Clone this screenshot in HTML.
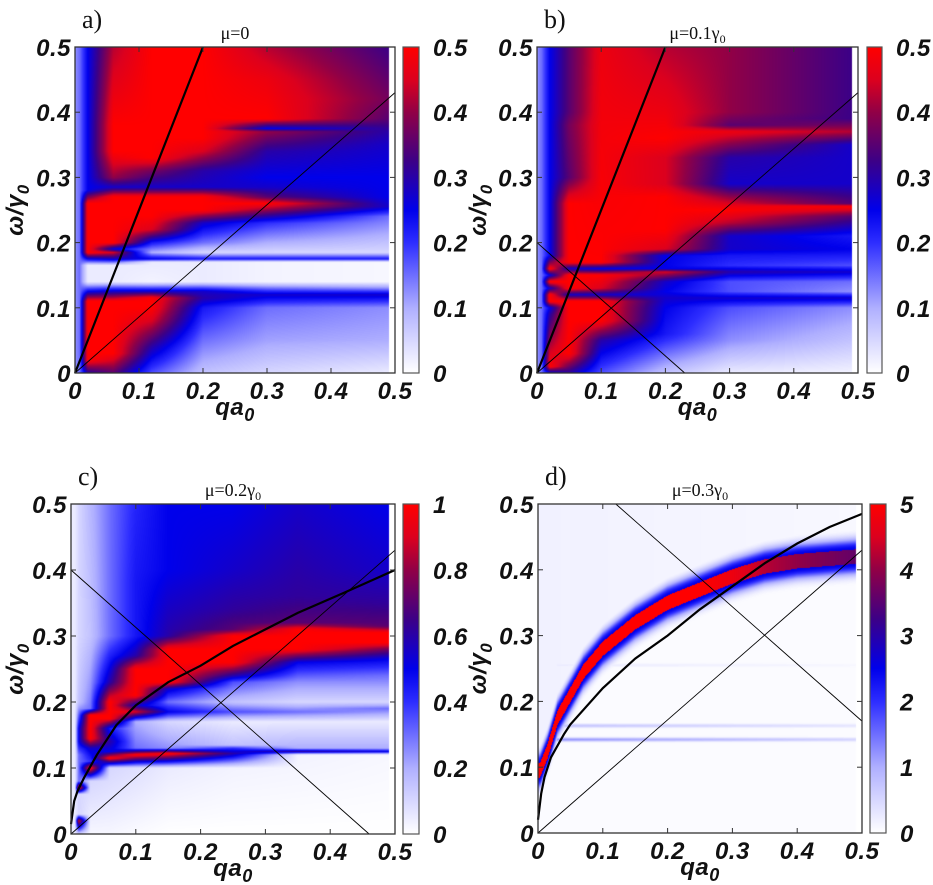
<!DOCTYPE html>
<html><head><meta charset="utf-8">
<style>
body{margin:0;background:#fff;width:933px;height:885px;overflow:hidden;position:relative;font-family:"Liberation Sans",sans-serif}
canvas{position:absolute}
svg{position:absolute;left:0;top:0}
.tk{font-family:"Liberation Sans",sans-serif;font-weight:bold;font-style:italic;font-size:24px;fill:#111;letter-spacing:0.5px}
.ttl{font-family:"Liberation Serif",serif;font-size:18px;fill:#111}
.pl{font-family:"Liberation Serif",serif;font-size:26px;fill:#111}
</style></head>
<body>
<canvas id="ca"></canvas>
<canvas id="cb"></canvas>
<canvas id="cc"></canvas>
<canvas id="cd"></canvas>
<svg id="ov" width="933" height="885"></svg>
<script>
// ---- data ----
const xTicks=["0","0.1","0.2","0.3","0.4","0.5"];
const yTicks=["0","0.1","0.2","0.3","0.4","0.5"];
const cbTicksA=["0","0.1","0.2","0.3","0.4","0.5"];
const cbTicksB=["0","0.1","0.2","0.3","0.4","0.5"];
const cbTicksC=["0","0.2","0.4","0.6","0.8","1"];
const cbTicksD=["0","1","2","3","4","5"];
const titles=["μ=0","μ=0.1γ","μ=0.2γ","μ=0.3γ"];
const panelLetters=["a)","b)","c)","d)"];

const aColQ=[0.0,0.007,0.02,0.06,0.12,0.2,0.3,0.49];
const aProfiles=[
[[0,0.25],[0.5,0.25]],
[[0,0.3],[0.5,0.3]],
[[0,0.6],[0.02,1],[0.11,1],[0.125,0.5],[0.14,0.05],[0.165,0.05],[0.175,0.5],[0.185,1],[0.26,1],[0.28,0.5],[0.3,0.5],[0.37,0.5],[0.5,0.5]],
[[0,0.7],[0.03,1],[0.11,1],[0.125,0.55],[0.14,0.05],[0.165,0.05],[0.175,0.55],[0.185,0.9],[0.19,0.5],[0.2,1],[0.27,1],[0.285,0.55],[0.3,0.8],[0.34,1],[0.38,1],[0.5,0.85]],
[[0,0.35],[0.04,0.6],[0.08,0.9],[0.1,1],[0.115,1],[0.125,0.55],[0.14,0.03],[0.17,0.05],[0.175,0.5],[0.185,0.2],[0.2,0.45],[0.22,0.9],[0.24,1],[0.27,1],[0.285,0.55],[0.31,0.75],[0.33,1],[0.5,1]],
[[0,0.15],[0.05,0.3],[0.1,0.45],[0.115,0.6],[0.125,0.55],[0.14,0.05],[0.17,0.05],[0.175,0.45],[0.185,0.1],[0.2,0.3],[0.23,0.55],[0.25,1],[0.27,1],[0.285,0.55],[0.31,0.6],[0.34,0.9],[0.36,1],[0.5,1]],
[[0,0.1],[0.05,0.22],[0.1,0.3],[0.12,0.55],[0.13,0.3],[0.14,0.03],[0.17,0.03],[0.175,0.45],[0.185,0.1],[0.2,0.2],[0.23,0.4],[0.25,0.8],[0.26,1],[0.27,0.7],[0.285,0.55],[0.3,0.5],[0.34,0.6],[0.37,0.8],[0.375,0.5],[0.39,1],[0.45,0.95],[0.5,0.85]],
[[0,0.05],[0.05,0.2],[0.1,0.25],[0.12,0.55],[0.13,0.25],[0.14,0.02],[0.17,0.02],[0.175,0.45],[0.185,0.1],[0.2,0.15],[0.24,0.3],[0.255,0.55],[0.27,0.5],[0.3,0.5],[0.35,0.55],[0.37,0.6],[0.39,0.7],[0.42,0.75],[0.5,0.65]]
];
const bColQ=[0.0,0.007,0.02,0.05,0.1,0.2,0.3,0.49];
const bProfiles=[
[[0,0.25],[0.5,0.25]],
[[0,0.3],[0.5,0.3]],
[[0,0.5],[0.01,1],[0.09,0.6],[0.1,0.5],[0.11,1],[0.12,1],[0.13,0.55],[0.14,1],[0.15,0.5],[0.16,1],[0.18,0.5],[0.2,0.5],[0.5,0.5]],
[[0,0.6],[0.03,1],[0.11,1],[0.12,0.55],[0.13,1],[0.15,1],[0.16,0.55],[0.17,1],[0.26,1],[0.3,0.7],[0.38,0.75],[0.4,0.7],[0.5,0.7]],
[[0,0.35],[0.05,0.6],[0.08,1],[0.11,1],[0.12,0.55],[0.13,0.9],[0.15,1],[0.16,0.5],[0.17,1],[0.5,0.95]],
[[0,0.15],[0.06,0.45],[0.1,0.5],[0.115,0.55],[0.125,0.5],[0.14,0.55],[0.155,0.9],[0.16,0.5],[0.18,0.5],[0.19,0.9],[0.22,1],[0.27,1],[0.29,0.9],[0.33,0.9],[0.36,1],[0.4,0.95],[0.5,0.85]],
[[0,0.05],[0.05,0.25],[0.1,0.35],[0.115,0.55],[0.125,0.35],[0.14,0.35],[0.155,0.6],[0.165,0.4],[0.18,0.45],[0.19,0.55],[0.21,0.55],[0.23,0.85],[0.25,1],[0.27,0.8],[0.29,0.55],[0.33,0.6],[0.37,0.95],[0.38,0.7],[0.4,0.8],[0.5,0.8]],
[[0,0.03],[0.05,0.15],[0.1,0.25],[0.115,0.55],[0.125,0.25],[0.14,0.3],[0.155,0.55],[0.165,0.35],[0.19,0.5],[0.21,0.45],[0.24,0.7],[0.255,1],[0.26,0.7],[0.29,0.55],[0.35,0.55],[0.37,0.85],[0.39,0.65],[0.42,0.65],[0.5,0.65]]
];
const cColQ=[0.0,0.006,0.012,0.03,0.06,0.1,0.15,0.25,0.35,0.49];
const cProfiles=[
[[0,0.05],[0.5,0.05]],
[[0,0.05],[0.5,0.05]],
[[0,0.1],[0.02,0.9],[0.03,0.1],[0.06,0.1],[0.07,1],[0.08,0.3],[0.12,0.3],[0.14,0.5],[0.16,0.5],[0.2,0.15],[0.3,0.1],[0.5,0.1]],
[[0,0.02],[0.08,0.1],[0.1,1],[0.11,0.4],[0.13,0.55],[0.145,1],[0.18,1],[0.19,0.3],[0.22,0.25],[0.3,0.15],[0.5,0.18]],
[[0,0.02],[0.1,0.1],[0.115,1],[0.125,0.5],[0.14,0.6],[0.16,0.45],[0.175,1],[0.2,1],[0.23,0.6],[0.3,0.3],[0.4,0.3],[0.5,0.3]],
[[0,0.01],[0.1,0.08],[0.12,1],[0.13,0.3],[0.17,0.2],[0.185,0.9],[0.195,0.55],[0.21,1],[0.25,1],[0.27,0.6],[0.3,0.45],[0.38,0.45],[0.5,0.42]],
[[0,0],[0.1,0.05],[0.122,1],[0.13,0.25],[0.17,0.1],[0.185,0.5],[0.2,0.3],[0.22,0.55],[0.23,1],[0.28,1],[0.3,0.6],[0.35,0.55],[0.4,0.5],[0.5,0.5]],
[[0,0],[0.1,0.03],[0.122,0.6],[0.13,0.4],[0.135,0.15],[0.17,0.05],[0.185,0.35],[0.2,0.15],[0.23,0.35],[0.24,0.6],[0.26,1],[0.3,1],[0.31,0.7],[0.34,0.62],[0.4,0.55],[0.5,0.5]],
[[0,0],[0.12,0.03],[0.125,0.6],[0.13,0.2],[0.17,0.05],[0.185,0.3],[0.2,0.1],[0.23,0.25],[0.26,0.5],[0.28,1],[0.31,1],[0.32,0.7],[0.36,0.62],[0.4,0.6],[0.5,0.55]],
[[0,0],[0.12,0.02],[0.125,0.5],[0.13,0.2],[0.17,0.05],[0.19,0.3],[0.2,0.1],[0.24,0.3],[0.265,0.5],[0.28,0.75],[0.29,1],[0.305,1],[0.315,0.7],[0.35,0.62],[0.4,0.55],[0.5,0.5]]
];
const dRidgeQ=[0.003,0.015,0.03,0.05,0.07,0.1,0.15,0.2,0.25,0.3,0.35,0.4,0.49];
const dRidgeW=[0.095,0.125,0.175,0.21,0.245,0.28,0.32,0.35,0.37,0.39,0.405,0.413,0.42];
const dRidgePeak=[1,1,1,1,1,1,1,1,1,0.95,0.85,0.8,0.72];
const dBandW=[0.142,0.163,0.255];
const dBandT=[0.25,0.15,0.05];

const lineA=[{q:[0,0.2],w:[0,0.5],thick:true},{q:[0,0.5],w:[0,0.43],thick:false}];
const lineB=[{q:[0,0.2],w:[0,0.5],thick:true},{q:[0,0.5],w:[0,0.43],thick:false},{q:[0,0.23],w:[0.2,0],thick:false}];
const lineC=[{q:[0,0.5],w:[0,0.43],thick:false},{q:[0,0.46],w:[0.4,0],thick:false},
 {q:[0,0.005,0.01,0.02,0.04,0.07,0.1,0.15,0.2,0.25,0.3,0.35,0.42,0.5],w:[0.015,0.05,0.065,0.085,0.12,0.165,0.195,0.23,0.255,0.285,0.31,0.335,0.365,0.4],thick:true}];
const lineD=[{q:[0,0.5],w:[0,0.43],thick:false},{q:[0.12,0.5],w:[0.5,0.17],thick:false},
 {q:[0,0.005,0.01,0.02,0.04,0.05,0.1,0.15,0.2,0.25,0.3,0.35,0.4,0.45,0.5],w:[0.02,0.06,0.085,0.115,0.15,0.165,0.22,0.265,0.3,0.34,0.375,0.41,0.44,0.465,0.485],thick:true}];

// ---- layout ----
const P=[
 {id:'ca',x0:75,x1:395,y0:47,y1:373,cb0:403,cb1:419,cols:aColQ,prof:aProfiles,lines:lineA,cbt:cbTicksA,yl:71,yt:15},
 {id:'cb',x0:537,x1:858,y0:47,y1:373,cb0:867,cb1:882,cols:bColQ,prof:bProfiles,lines:lineB,cbt:cbTicksB,yl:533,yt:478},
 {id:'cc',x0:71,x1:395,y0:504,y1:834,cb0:403,cb1:419,cols:cColQ,prof:cProfiles,lines:lineC,cbt:cbTicksC,yl:67,yt:15},
 {id:'cd',x0:538,x1:862,y0:504,y1:833,cb0:870,cb1:886,cols:null,prof:null,lines:lineD,cbt:cbTicksD,yl:534,yt:478}
];
const cmap=[[0,255,255,255],[0.2,175,175,255],[0.4,45,45,255],[0.5,0,0,235],[0.65,60,0,135],[0.8,145,0,70],[0.9,220,0,30],[1,255,0,0]];
function col(t){t=Math.max(0,Math.min(1,t));for(let i=1;i<cmap.length;i++){if(t<=cmap[i][0]){const a=cmap[i-1],b=cmap[i],f=(t-a[0])/(b[0]-a[0]);return [a[1]+f*(b[1]-a[1]),a[2]+f*(b[2]-a[2]),a[3]+f*(b[3]-a[3])];}}return [255,0,0];}
function interp(xs,ys,x){if(x<=xs[0])return ys[0];for(let i=1;i<xs.length;i++){if(x<=xs[i]){const f=(x-xs[i-1])/(xs[i]-xs[i-1]);return ys[i-1]+f*(ys[i]-ys[i-1]);}}return ys[ys.length-1];}
function prof(st,w){return interp(st.map(s=>s[0]),st.map(s=>s[1]),w);}
function field(p,q,w){
 if(q>0.49)return 0;
 if(!p.cols){
  const wr=interp(dRidgeQ,dRidgeW,q),pk=interp(dRidgeQ,dRidgePeak,q);
  const d=Math.abs(w-wr);
  let t=d<0.011?pk:0.5*Math.exp(-Math.pow((d-0.011)/0.016,2));
  let bg=w>wr?0.035*(1-q):0.01;
  for(let i=0;i<dBandW.length;i++){if(q>0.03)bg=Math.max(bg,dBandT[i]*Math.exp(-Math.pow((w-dBandW[i])/0.003,2))*(1-q*1.2));}
  return Math.max(t,bg);
 }
 const c=p.cols;let i=1;while(i<c.length-1&&q>c[i])i++;
 const f=Math.max(0,Math.min(1,(q-c[i-1])/(c[i]-c[i-1])));
 return prof(p.prof[i-1],w)*(1-f)+prof(p.prof[i],w)*f;
}
const NS='http://www.w3.org/2000/svg';const ov=document.getElementById('ov');
function el(tag,attrs,txt){const e=document.createElementNS(NS,tag);for(const k in attrs)e.setAttribute(k,attrs[k]);if(txt!==undefined)e.textContent=txt;ov.appendChild(e);return e;}
P.forEach((p,pi)=>{
 const W=p.x1-p.x0,H=p.y1-p.y0;
 const sx=q=>p.x0+q/0.5*W, sy=w=>p.y1-w/0.5*H;
 const cv=document.getElementById(p.id);cv.width=W;cv.height=H;cv.style.left=p.x0+'px';cv.style.top=p.y0+'px';
 const ctx=cv.getContext('2d');const img=ctx.createImageData(W,H);
 for(let y=0;y<H;y++){const w=(H-y-0.5)/H*0.5;for(let x=0;x<W;x++){const q=(x+0.5)/W*0.5;const c=col(field(p,q,w));const k=(y*W+x)*4;img.data[k]=c[0];img.data[k+1]=c[1];img.data[k+2]=c[2];img.data[k+3]=255;}}
 ctx.putImageData(img,0,0);
 p.lines.forEach((L,li)=>{const pts=L.q.map((q,i)=>sx(q).toFixed(1)+','+sy(L.w[i]).toFixed(1)).join(' ');
  const e=el('polyline',{points:pts,fill:'none',stroke:'#000','stroke-width':L.thick?2.2:0.9});
  });
 const fr=el('rect',{x:p.x0,y:p.y0,width:W,height:H,fill:'none',stroke:'#333','stroke-width':1.3});
 
 xTicks.forEach((t,i)=>{const x=sx(i*0.1);el('line',{x1:x,x2:x,y1:p.y1,y2:p.y1-5,stroke:'#333'});el('line',{x1:x,x2:x,y1:p.y0,y2:p.y0+5,stroke:'#333'});
  const e=el('text',{x:x,y:p.y1+26,'text-anchor':'middle',class:'tk'},t);});
 yTicks.forEach((t,i)=>{const y=sy(i*0.1);el('line',{x1:p.x0,x2:p.x0+5,y1:y,y2:y,stroke:'#333'});el('line',{x1:p.x1,x2:p.x1-5,y1:y,y2:y,stroke:'#333'});
  const e=el('text',{x:p.yl,y:y+9,'text-anchor':'end',class:'tk'},t);});
 const xt=el('text',{x:(p.x0+p.x1)/2,y:p.y1+42,'text-anchor':'middle',class:'tk','font-weight':'normal','font-size':'26'});
 
 xt.innerHTML='qa<tspan font-size="18" dy="6">0</tspan>';
 const yt=el('text',{x:0,y:0,'text-anchor':'middle',class:'tk','font-weight':'normal','font-size':'24',transform:`translate(${p.yt+8},${(p.y0+p.y1)/2}) rotate(-90)`});
 
 yt.innerHTML='ω/γ<tspan font-size="17" dy="6">0</tspan>';
 const tt=el('text',{x:(p.x0+p.x1)/2,y:p.y0-8,'text-anchor':'middle',class:'ttl'});
 
 tt.innerHTML=titles[pi]+(pi>0?'<tspan font-size="12" dy="4">0</tspan>':'');
 const lt=el('text',{x:p.x0+7,y:p.y0-19,class:'pl'},panelLetters[pi]);
 
 const gid='g'+pi;const defs=el('defs',{});const lg=document.createElementNS(NS,'linearGradient');
 lg.setAttribute('id',gid);lg.setAttribute('x1','0');lg.setAttribute('y1','1');lg.setAttribute('x2','0');lg.setAttribute('y2','0');
 cmap.forEach(s=>{const st=document.createElementNS(NS,'stop');st.setAttribute('offset',s[0]);st.setAttribute('stop-color',`rgb(${s[1]},${s[2]},${s[3]})`);lg.appendChild(st);});
 defs.appendChild(lg);
 const cb=el('rect',{x:p.cb0,y:p.y0,width:p.cb1-p.cb0,height:H,fill:`url(#${gid})`,stroke:'#555','stroke-width':1.2});
 
 p.cbt.forEach((t,i)=>{const y=p.y1-i/(p.cbt.length-1)*H;
  const e=el('text',{x:p.cb1+14,y:y+9,class:'tk'},t);});
});
</script>
</body></html>
